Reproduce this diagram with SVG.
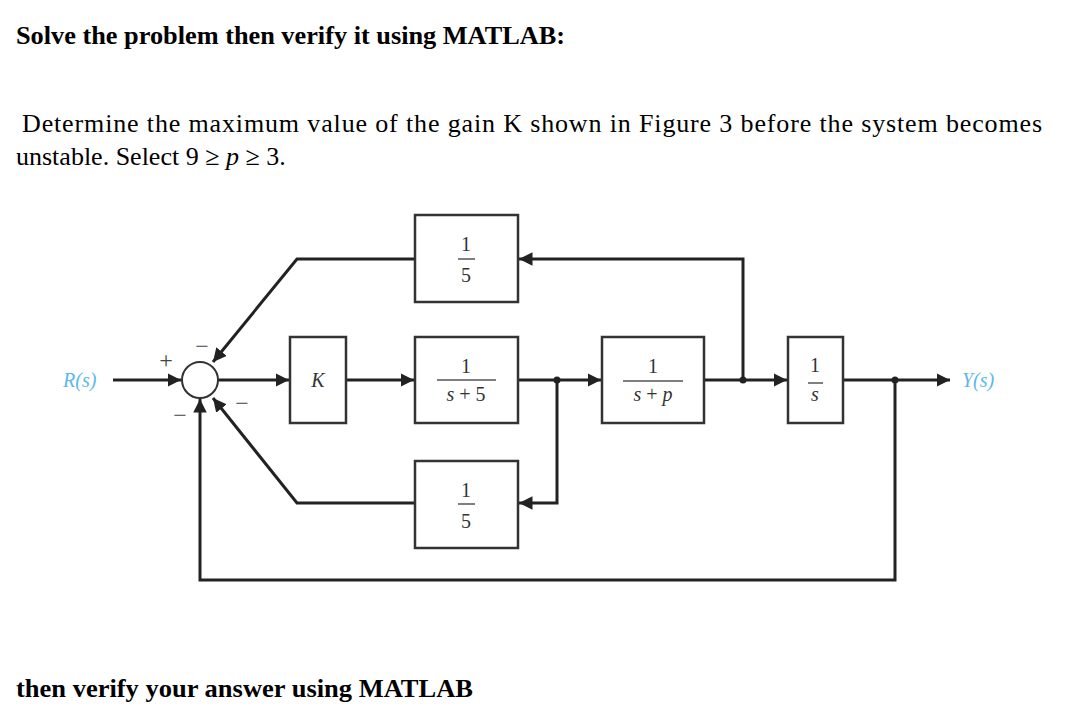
<svg xmlns="http://www.w3.org/2000/svg" width="1068" height="710" viewBox="0 0 1068 710">
<style>
.h{font-family:"Liberation Serif",serif;font-weight:bold;font-size:26px;fill:#000}
.p{font-family:"Liberation Serif",serif;font-size:26px;fill:#000}
.b{fill:#fff;stroke:#333;stroke-width:2.5}
.w{fill:none;stroke:#222;stroke-width:3}
.t{font-family:"Liberation Serif",serif;font-size:20px;fill:#333;text-anchor:middle}
.i{font-style:italic}
.sig{font-family:"Liberation Serif",serif;font-size:24px;fill:#444;text-anchor:middle}
.lab{font-family:"Liberation Serif",serif;font-style:italic;font-size:20px;fill:#5bb8ea}
.fr{stroke:#555;stroke-width:1.5}
</style>
<defs><marker id="a" viewBox="0 0 10 10" refX="10" refY="5" markerWidth="4.5" markerHeight="4.5" orient="auto"><path d="M0,0L10,5L0,10z" fill="#222"/></marker></defs>
<rect width="1068" height="710" fill="#fff"/>
<text class="h" x="16" y="44" textLength="549" lengthAdjust="spacingAndGlyphs">Solve the problem then verify it using MATLAB:</text>
<text class="p" x="22" y="132" textLength="1020" lengthAdjust="spacing">Determine the maximum value of the gain K shown in Figure 3 before the system becomes</text>
<text class="p" x="16" y="165">unstable. Select  9 ≥ <tspan font-style="italic">p</tspan> ≥ 3.</text>
<text class="h" x="16" y="697" textLength="457" lengthAdjust="spacingAndGlyphs">then verify your answer using MATLAB</text>
<g id="connectors">
<line class="w" x1="113" y1="380" x2="181" y2="380" marker-end="url(#a)"/>
<line class="w" x1="218" y1="380" x2="289" y2="380" marker-end="url(#a)"/>
<line class="w" x1="346" y1="380" x2="414" y2="380" marker-end="url(#a)"/>
<line class="w" x1="518" y1="380" x2="601" y2="380" marker-end="url(#a)"/>
<line class="w" x1="704" y1="380" x2="787" y2="380" marker-end="url(#a)"/>
<line class="w" x1="843" y1="380" x2="950" y2="380" marker-end="url(#a)"/>
<polyline class="w" points="743,380 743,259 519,259" marker-end="url(#a)"/>
<polyline class="w" points="557,380 557,503 519,503" marker-end="url(#a)"/>
<polyline class="w" points="415,259 297,259 213,362" marker-end="url(#a)"/>
<polyline class="w" points="415,503 297,503 213,398" marker-end="url(#a)"/>
<polyline class="w" points="895,380 895,580 200,580 200,399" marker-end="url(#a)"/>
<circle cx="557" cy="380" r="3.5" fill="#222"/>
<circle cx="743" cy="380" r="3.5" fill="#222"/>
<circle cx="895" cy="380" r="3.5" fill="#222"/>
</g>
<g id="sum"><circle cx="200" cy="380" r="18" fill="#fff" stroke="#333" stroke-width="2"/>
<text class="sig" x="166" y="368">+</text><text class="sig" x="202" y="354">−</text><text class="sig" x="242" y="411">−</text><text class="sig" x="180" y="423">−</text></g>
<g id="R"><text class="lab" x="63" y="387">R(s)</text></g>
<g id="Y"><text class="lab" x="962" y="387">Y(s)</text></g>
<g id="K"><rect class="b" x="290" y="337" width="56" height="86"/><text class="t i" x="318" y="387">K</text></g>
<g id="G1"><rect class="b" x="415" y="337" width="103" height="86"/><text class="t" x="466" y="373">1</text><line class="fr" x1="437" y1="380" x2="496" y2="380"/><text class="t" x="466" y="401"><tspan font-style="italic">s</tspan> + 5</text></g>
<g id="G2"><rect class="b" x="602" y="337" width="102" height="86"/><text class="t" x="653" y="373">1</text><line class="fr" x1="623" y1="381" x2="683" y2="381"/><text class="t" x="653" y="401"><tspan font-style="italic">s</tspan> + <tspan font-style="italic">p</tspan></text></g>
<g id="G3"><rect class="b" x="788" y="337" width="55" height="86"/><text class="t" x="815" y="372">1</text><line class="fr" x1="808" y1="383" x2="823" y2="383"/><text class="t i" x="815" y="401">s</text></g>
<g id="H1"><rect class="b" x="415" y="215" width="103" height="87"/><text class="t" x="466" y="251">1</text><line class="fr" x1="458" y1="259" x2="475" y2="259"/><text class="t" x="466" y="282">5</text></g>
<g id="H2"><rect class="b" x="415" y="461" width="103" height="87"/><text class="t" x="466" y="497">1</text><line class="fr" x1="458" y1="504" x2="475" y2="504"/><text class="t" x="466" y="528">5</text></g>
</svg>
